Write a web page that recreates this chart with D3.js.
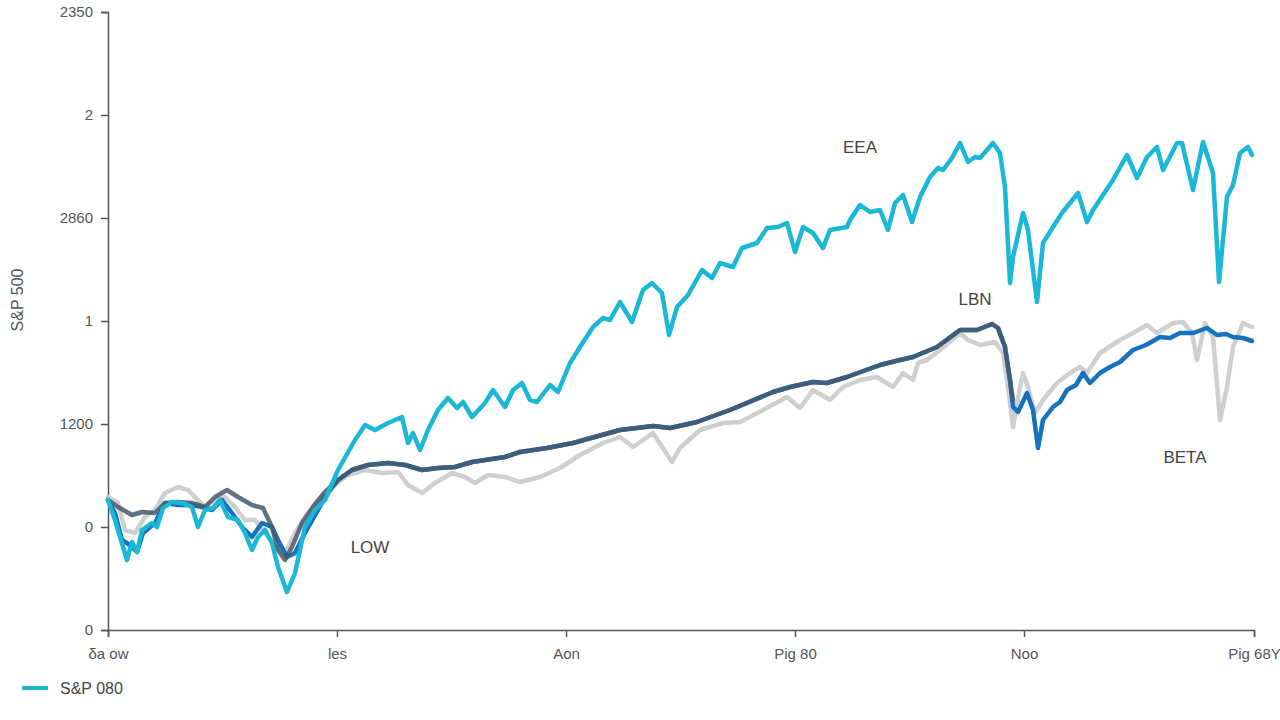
<!DOCTYPE html>
<html>
<head>
<meta charset="utf-8">
<script src="https://cdn.jsdelivr.net/npm/d3@7"></script>
<style>
    body { margin: 0; background: #fff; }
    svg { display: block; font-family: "Liberation Sans", Arial, sans-serif; }
    .axis path, .axis line { stroke: #555; stroke-width: 1.5; }
    .axis text { fill: #555; font-size: 15px; }
    .note { fill: #444; font-size: 17px; }
</style>
</head>
<body>
<div id="chart"></div>
<script>
// x = trading day offset, y = index level
const cyanSeries = [[0,130],[7,110],[19,70],[24,88],[29,78],[34,100],[44,107],[49,103],[55,122],[64,128],[74,127],[84,123],[90,103],[97,120],[105,122],[112,130],[120,113],[130,110],[137,97],[144,80],[150,93],[157,100],[164,87],[170,63],[179,38],[187,57],[197,103],[207,120],[217,130],[230,160],[247,190],[257,205],[267,200],[280,207],[294,213],[300,187],[305,197],[312,180],[320,200],[330,220],[340,232],[349,222],[355,228],[364,213],[377,227],[385,240],[397,223],[405,240],[414,247],[422,230],[429,228],[442,245],[450,238],[462,267],[472,283],[485,303],[495,312],[502,310],[512,328],[524,308],[535,340],[544,347],[554,337],[561,295],[569,323],[580,335],[594,360],[604,352],[612,367],[625,363],[634,382],[649,387],[659,402],[670,403],[679,407],[687,378],[695,403],[705,397],[715,382],[722,400],[739,403],[742,410],[752,425],[762,418],[772,420],[780,400],[787,427],[795,435],[804,408],[812,433],[822,453],[830,462],[835,460],[844,472],[852,487],[860,468],[867,473],[872,472],[885,487],[892,477],[897,443],[902,347],[905,373],[915,417],[920,400],[929,328],[935,387],[945,403],[954,417],[970,437],[979,408],[985,420],[1005,450],[1019,475],[1029,452],[1039,473],[1049,483],[1055,460],[1069,487],[1074,487],[1085,440],[1095,488],[1105,457],[1111,348],[1119,433],[1125,445],[1132,477],[1140,483],[1144,475]];

const blueSeries = [[0,130],[7,117],[14,90],[22,85],[29,78],[35,97],[47,107],[57,127],[70,125],[84,125],[94,123],[104,120],[114,130],[124,117],[134,103],[144,93],[154,107],[164,103],[170,90],[179,73],[187,77],[197,97],[210,120],[217,133],[230,150],[244,160],[260,165],[280,167],[297,165],[314,160],[330,162],[347,163],[364,168],[397,173],[412,178],[439,182],[465,187],[512,200],[545,204],[562,202],[589,208],[622,220],[665,238],[682,243],[705,248],[719,247],[739,253],[772,265],[792,270],[805,273],[829,283],[852,300],[869,300],[884,306],[890,302],[897,283],[902,250],[905,223],[910,218],[919,237],[925,220],[930,182],[935,210],[945,223],[952,228],[959,240],[968,245],[975,257],[982,247],[992,257],[1002,263],[1012,268],[1025,280],[1038,285],[1052,293],[1062,292],[1072,297],[1085,297],[1099,302],[1109,295],[1118,296],[1125,293],[1135,292],[1144,289]];

const darkSeries = [[0,130],[10,123],[24,115],[34,118],[47,117],[57,127],[70,128],[84,127],[97,123],[107,133],[119,140],[130,133],[144,125],[155,122],[164,103],[170,80],[177,70],[184,83],[194,107],[205,123],[217,138],[230,150],[244,160],[260,165],[280,167],[297,165],[314,160],[330,162],[347,163],[364,168],[397,173],[412,178],[439,182],[465,187],[512,200],[545,204],[562,202],[589,208],[622,220],[665,238],[682,243],[705,248],[719,247],[739,253],[772,265],[792,270],[805,273],[829,283],[852,300],[869,300],[884,306],[890,302],[897,283],[902,250],[905,230]];

const graySeries = [[0,133],[10,127],[17,100],[27,97],[37,113],[47,120],[57,137],[70,143],[80,140],[90,130],[97,123],[107,130],[117,133],[127,123],[137,110],[147,110],[157,97],[167,83],[177,77],[187,97],[197,113],[210,130],[224,143],[240,155],[257,160],[274,157],[290,158],[300,145],[314,137],[327,147],[344,157],[357,153],[367,147],[380,155],[397,153],[412,148],[432,153],[452,162],[472,175],[495,187],[512,193],[525,183],[545,197],[564,168],[572,182],[592,200],[615,207],[632,208],[655,220],[679,233],[692,222],[705,240],[722,230],[735,243],[752,250],[769,253],[785,243],[795,257],[805,250],[810,267],[819,270],[832,280],[852,297],[860,290],[872,285],[887,288],[895,277],[900,243],[905,203],[912,243],[915,257],[920,243],[927,217],[935,230],[949,247],[962,257],[972,263],[979,257],[992,277],[1012,290],[1025,297],[1039,305],[1049,297],[1065,307],[1075,308],[1084,297],[1089,270],[1097,307],[1105,293],[1112,210],[1119,243],[1125,283],[1135,307],[1144,303]];

const yTickValues = [0, 103, 206, 309, 412, 515, 618];
const yTickLabels = ["0", "0", "1200", "1", "2860", "2", "2350"];
const xTickValues = [0, 229, 458, 687, 916, 1146];
const xTickLabels = ["δa ow", "les", "Aon", "Pig 80", "Noo", "Pig 68Y"];

const notes = [
    { text: "EEA", x: 752, y: 483 },
    { text: "LBN", x: 867, y: 331 },
    { text: "BETA", x: 1077, y: 173 },
    { text: "LOW", x: 262, y: 83 }
];

const width = 1280, height = 720;
const margin = { top: 12, right: 26, bottom: 90, left: 108 };

const svg = d3.select("#chart").append("svg")
    .attr("width", width)
    .attr("height", height);

const x = d3.scaleLinear()
    .domain([0, 1146])
    .range([margin.left, width - margin.right]);

const y = d3.scaleLinear()
    .domain([0, 618])
    .range([height - margin.bottom, margin.top]);

const line = d3.line()
    .x(d => x(d[0]))
    .y(d => y(d[1]));

// axes
svg.append("g")
    .attr("class", "axis")
    .attr("transform", "translate(" + margin.left + ",0)")
    .call(d3.axisLeft(y).tickValues(yTickValues).tickSizeOuter(0).tickSize(7).tickPadding(8)
        .tickFormat((d, i) => yTickLabels[i]));

svg.append("g")
    .attr("class", "axis")
    .attr("transform", "translate(0," + (height - margin.bottom) + ")")
    .call(d3.axisBottom(x).tickValues(xTickValues).tickSizeOuter(0).tickSize(7).tickPadding(11)
        .tickFormat((d, i) => xTickLabels[i]));

// lines
const series = [
    { data: graySeries, color: "#cfcfcf", w: 4.5, op: 1 },
    { data: blueSeries, color: "#1672bd", w: 4.5, op: 1 },
    { data: darkSeries, color: "#46586c", w: 4.5, op: 0.85 },
    { data: cyanSeries, color: "#1bb7d6", w: 4.5, op: 1 }
];

svg.append("g").selectAll("path")
    .data(series)
    .enter().append("path")
    .attr("d", d => line(d.data))
    .attr("fill", "none")
    .attr("stroke", d => d.color)
    .attr("stroke-width", d => d.w)
    .attr("stroke-opacity", d => d.op)
    .attr("stroke-linejoin", "round")
    .attr("stroke-linecap", "round");

// annotations
svg.append("g").selectAll("text")
    .data(notes)
    .enter().append("text")
    .attr("class", "note")
    .attr("x", d => x(d.x))
    .attr("y", d => y(d.y))
    .attr("dy", "0.35em")
    .attr("text-anchor", "middle")
    .text(d => d.text);

// y title
svg.append("text")
    .attr("transform", "translate(23,300) rotate(-90)")
    .attr("text-anchor", "middle")
    .attr("fill", "#555")
    .style("font-size", "16px")
    .text("S&P 500");

// legend
const legend = svg.append("g").attr("transform", "translate(22,688)");
legend.append("line")
    .attr("x1", 0).attr("x2", 26)
    .attr("stroke", "#1bb7d6")
    .attr("stroke-width", 4);
legend.append("text")
    .attr("x", 38)
    .attr("dy", "0.35em")
    .attr("fill", "#444")
    .style("font-size", "16px")
    .text("S&P 080");
</script>
</body>
</html>
